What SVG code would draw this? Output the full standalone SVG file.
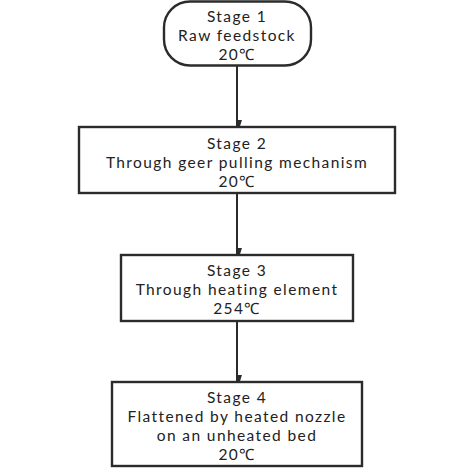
<svg xmlns="http://www.w3.org/2000/svg" width="474" height="474" viewBox="0 0 474 474">
<defs>
<style>
.box{fill:#fff;stroke:#2b2b2b;stroke-width:2.4}
.t{font-family:Lato,"Open Sans",sans-serif;font-size:15.5px;letter-spacing:1.4px;fill:#222;text-anchor:middle}
.c{stroke:#2b2b2b;stroke-width:2;fill:none}
</style>
<marker id="ah" markerWidth="10" markerHeight="16" refX="10" refY="8" orient="auto" markerUnits="userSpaceOnUse" viewBox="0 0 16 10">
<path d="M0,0 L16,5 L0,10 Z" fill="#2b2b2b"/>
</marker>
</defs>
<rect width="474" height="474" fill="#fff"/>
<g id="connectors">
<line class="c" x1="237" y1="66" x2="237" y2="126" marker-end="url(#ah)"/>
<line class="c" x1="237" y1="193" x2="237" y2="254" marker-end="url(#ah)"/>
<line class="c" x1="237" y1="321" x2="237" y2="381" marker-end="url(#ah)"/>
</g>
<g id="stage1">
<rect class="box" x="164" y="1.5" width="147" height="64" rx="26" ry="26"/>
<text class="t" x="237" y="22">Stage 1</text>
<text class="t" x="237" y="41">Raw feedstock</text>
<text class="t" x="237" y="60">20℃</text>
</g>
<g id="stage2">
<rect class="box" x="79" y="127" width="316" height="66"/>
<text class="t" x="237" y="149">Stage 2</text>
<text class="t" x="237" y="168">Through geer pulling mechanism</text>
<text class="t" x="237" y="187">20℃</text>
</g>
<g id="stage3">
<rect class="box" x="121" y="255" width="232" height="66"/>
<text class="t" x="237" y="276">Stage 3</text>
<text class="t" x="237" y="295">Through heating element</text>
<text class="t" x="237" y="314">254℃</text>
</g>
<g id="stage4">
<rect class="box" x="112" y="382" width="250" height="84"/>
<text class="t" x="237" y="403">Stage 4</text>
<text class="t" x="237" y="422">Flattened by heated nozzle</text>
<text class="t" x="237" y="441">on an unheated bed</text>
<text class="t" x="237" y="460">20℃</text>
</g>
</svg>
